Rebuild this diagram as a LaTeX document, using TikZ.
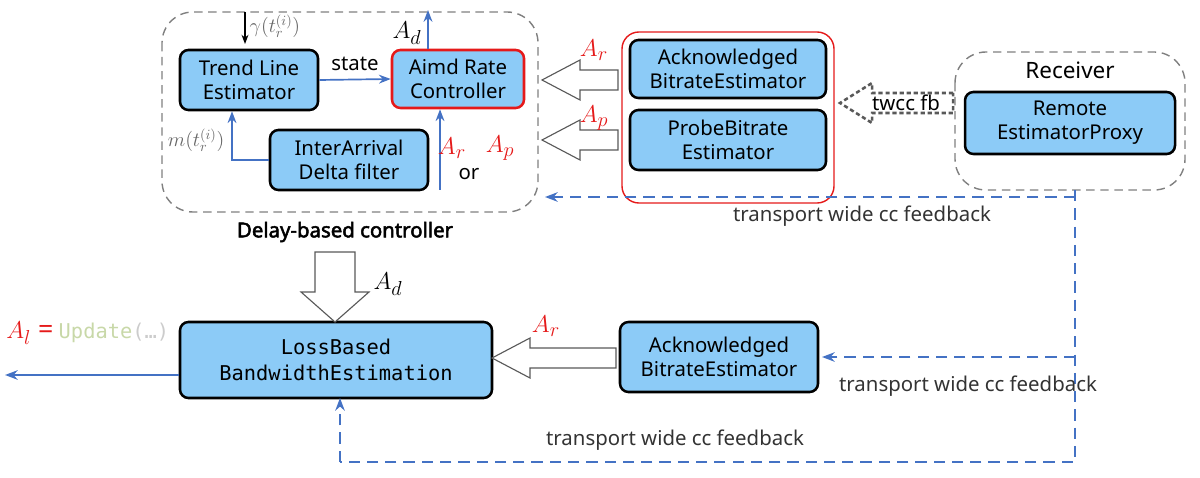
\documentclass[tikz,border=0pt]{standalone}
\usepackage{fontspec}
\setmainfont{Noto Sans}
\newfontfamily\monofont{DejaVu Sans Mono}
\newfontfamily\heavyfont{Noto Sans}[FakeBold=2.5]
\usetikzlibrary{arrows.meta}
\definecolor{boxblue}{HTML}{8CCBF7}
\definecolor{lineblue}{HTML}{4472C4}
\definecolor{redline}{HTML}{E51A1A}
\definecolor{updcol}{HTML}{C8D8A8}
% hollow fat arrow: tail x, tip x, y (pixels), horizontal
\newcommand{\fatleft}[3]{\draw[gray!70!black, fill=white, thick]
  (#1,#3-10) -- (#2+38,#3-10) -- (#2+38,#3-20) -- (#2,#3) -- (#2+38,#3+20) -- (#2+38,#3+10) -- (#1,#3+10) -- cycle;}

\begin{document}
\begin{tikzpicture}[x=0.025cm, y=-0.025cm, >=Stealth, font=\fontsize{14.5}{17}\selectfont,
        est/.style={draw, line width=1.8pt, rounded corners=6pt, fill=boxblue, align=center, inner sep=0pt},
        grp/.style={draw=gray, dashed, line width=1pt, rounded corners=22pt, dash pattern=on 6pt off 4pt},
        fb/.style={lineblue, line width=2pt, dash pattern=on 8pt off 5pt},
        flow/.style={lineblue, ->, line width=1.2pt},
        redlbl/.style={text=redline, font=\fontsize{19}{21}\selectfont},
        mlbl/.style={font=\fontsize{19}{21}\selectfont}]
    \useasboundingbox (0,0) rectangle (1200,478);

    % Delay-based controller
    \draw[grp] (162,12) rectangle (538,212);
    \node[est, minimum width=138*0.025cm, minimum height=60*0.025cm] (trend) at (249,80) {Trend Line\\Estimator};
    \node[est, draw=redline, minimum width=132*0.025cm, minimum height=58*0.025cm] (aimd) at (458,79) {Aimd Rate\\Controller};
    \node[est, minimum width=158*0.025cm, minimum height=60*0.025cm] (inter) at (349,160) {InterArrival\\Delta filter};
    \coordinate (gtop) at (245,12);
    \coordinate (atop) at (428,10);
    \coordinate (abot) at (440,190);
    \coordinate (mx) at (232,0);
    \draw[->, line width=0.8pt] (gtop) -- (245,44);
    \node[text=gray!80!black, anchor=west, inner sep=1pt] at (248,26) {$\gamma(t_r^{(i)})$};
    \draw[flow] (aimd.north -| atop) -- (atop);
    \node[mlbl] at (407,33) {$A_d$};
    \draw[flow] (trend.east) -- node[above=2pt, text=black] {state} (aimd.west);
    \draw[flow] (inter.west) -| (trend.south -| mx);
    \node[text=gray!80!black, anchor=east, inner sep=1pt] at (226,140) {$m(t_r^{(i)})$};
    \draw[flow] (abot) -- (aimd.south -| abot);
    \node[redlbl] at (452,148) {$A_r$};
    \node[redlbl] at (500,148) {$A_p$};
    \node at (469,174) {or};
    \node[font=\heavyfont\fontsize{14.5}{17}\selectfont] (dbc) at (345,232) {Delay-based controller};

    % acknowledged / probe estimators
    \draw[redline, line width=1pt, rounded corners=12pt] (622,32) rectangle (834,203);
    \node[est, minimum width=196*0.025cm, minimum height=58*0.025cm] (ack) at (728,69) {Acknowledged\\BitrateEstimator};
    \node[est, minimum width=196*0.025cm, minimum height=60*0.025cm] (probe) at (728,140) {ProbeBitrate\\Estimator};
    \fatleft{618}{542}{80}
    \fatleft{618}{542}{140}
    \node[redlbl] at (594,50) {$A_r$};
    \node[redlbl] at (594,118) {$A_p$};

    % receiver
    \draw[grp] (955,52) rectangle (1185,190);
    \node[font=\fontsize{16}{18}\selectfont] at (1070,70) {Receiver};
    \node[est, minimum width=210*0.025cm, minimum height=62*0.025cm] (proxy) at (1070,123) {Remote\\EstimatorProxy};
    \draw[gray!70!black, line width=1.8pt, dash pattern=on 3pt off 2pt, fill=white]
      (953,93) -- (872,93) -- (872,83) -- (840,103) -- (872,123) -- (872,113) -- (953,113) -- cycle;
    \node at (906,103) {twcc fb};

    % loss-based estimation
    \node[est, minimum width=312*0.025cm, minimum height=76*0.025cm, font=\monofont\fontsize{14.5}{19}\selectfont] (loss) at (336,360) {LossBased\\BandwidthEstimation};
    \node[est, minimum width=198*0.025cm, minimum height=70*0.025cm] (ack2) at (719,357) {Acknowledged\\BitrateEstimator};
    \fatleft{616}{492}{358}
    \node[redlbl] at (546,326) {$A_r$};
    \draw[gray!70!black, fill=white, thick]
      (315,252) -- (355,252) -- (355,292) -- (369,292) -- (335,322) -- (301,292) -- (315,292) -- cycle;
    \node[mlbl] at (388,284) {$A_d$};
    \coordinate (out) at (5,375);
    \draw[lineblue, -{Stealth[length=9pt]}, line width=2pt] (loss.west |- out) -- (out);
    \node[anchor=west, inner sep=0pt] at (6,333) {\textcolor{redline}{\fontsize{19}{21}\selectfont$A_l$ =} \textcolor{updcol}{\monofont Update}\textcolor{gray!40}{\monofont(…)}};

    % feedback paths
    \coordinate (fbtop) at (1075,190);
    \coordinate (fbbot) at (1075,462);
    \draw[fb] (fbtop) -- (fbbot) -- (340,462);
    \draw[fb, -{Stealth[length=9pt]}] (340,462) -- (340,398);
    \draw[fb, -{Stealth[length=9pt]}] (1075,197) -- (545,197);
    \draw[fb, -{Stealth[length=9pt]}] (1075,357) -- (822,357);
    \node[text=black!80] at (862,216) {transport wide cc feedback};
    \node[text=black!80] at (968,386) {transport wide cc feedback};
    \node[text=black!80] at (675,440) {transport wide cc feedback};
\end{tikzpicture}
\end{document}
